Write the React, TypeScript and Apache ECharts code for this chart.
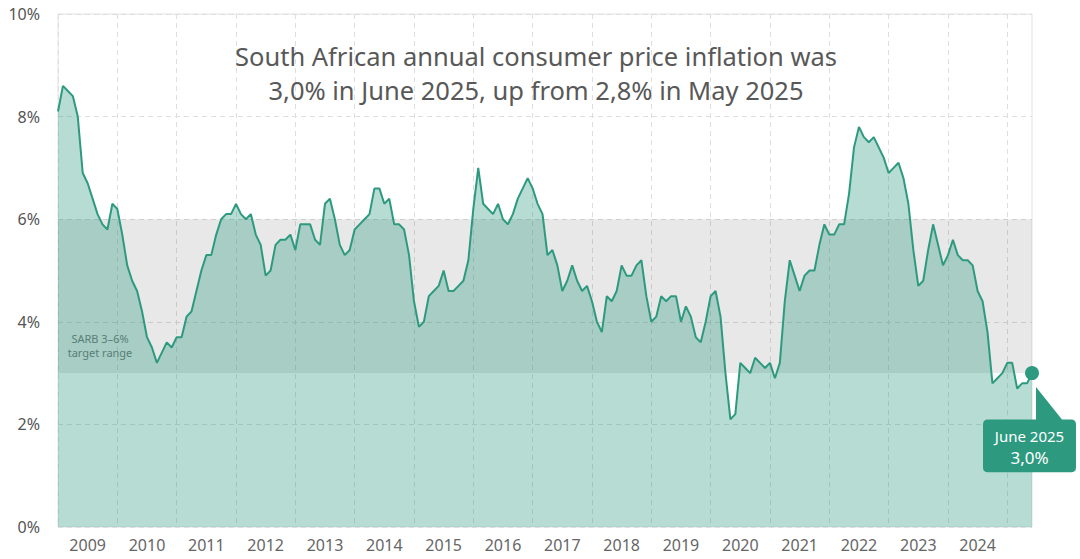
import React, { useEffect, useRef } from "react";
import * as echarts from "echarts";

// Headline CPI, year-on-year % change, monthly from January 2009
const startYear = 2009;
const cpi: number[] = [
  // 2009
  8.1, 8.6, 8.5, 8.4, 8.0, 6.9, 6.7, 6.4, 6.1, 5.9, 5.8, 6.3,
  // 2010
  6.2, 5.7, 5.1, 4.8, 4.6, 4.2, 3.7, 3.5, 3.2, 3.4, 3.6, 3.5,
  // 2011
  3.7, 3.7, 4.1, 4.2, 4.6, 5.0, 5.3, 5.3, 5.7, 6.0, 6.1, 6.1,
  // 2012
  6.3, 6.1, 6.0, 6.1, 5.7, 5.5, 4.9, 5.0, 5.5, 5.6, 5.6, 5.7,
  // 2013
  5.4, 5.9, 5.9, 5.9, 5.6, 5.5, 6.3, 6.4, 6.0, 5.5, 5.3, 5.4,
  // 2014
  5.8, 5.9, 6.0, 6.1, 6.6, 6.6, 6.3, 6.4, 5.9, 5.9, 5.8, 5.3,
  // 2015
  4.4, 3.9, 4.0, 4.5, 4.6, 4.7, 5.0, 4.6, 4.6, 4.7, 4.8, 5.2,
  // 2016
  6.2, 7.0, 6.3, 6.2, 6.1, 6.3, 6.0, 5.9, 6.1, 6.4, 6.6, 6.8,
  // 2017
  6.6, 6.3, 6.1, 5.3, 5.4, 5.1, 4.6, 4.8, 5.1, 4.8, 4.6, 4.7,
  // 2018
  4.4, 4.0, 3.8, 4.5, 4.4, 4.6, 5.1, 4.9, 4.9, 5.1, 5.2, 4.5,
  // 2019
  4.0, 4.1, 4.5, 4.4, 4.5, 4.5, 4.0, 4.3, 4.1, 3.7, 3.6, 4.0,
  // 2020
  4.5, 4.6, 4.1, 3.0, 2.1, 2.2, 3.2, 3.1, 3.0, 3.3, 3.2, 3.1,
  // 2021
  3.2, 2.9, 3.2, 4.4, 5.2, 4.9, 4.6, 4.9, 5.0, 5.0, 5.5, 5.9,
  // 2022
  5.7, 5.7, 5.9, 5.9, 6.5, 7.4, 7.8, 7.6, 7.5, 7.6, 7.4, 7.2,
  // 2023
  6.9, 7.0, 7.1, 6.8, 6.3, 5.4, 4.7, 4.8, 5.4, 5.9, 5.5, 5.1,
  // 2024
  5.3, 5.6, 5.3, 5.2, 5.2, 5.1, 4.6, 4.4, 3.8, 2.8, 2.9, 3.0,
  // 2025
  3.2, 3.2, 2.7, 2.8, 2.8, 3.0,
];

const monthNames = [
  "January", "February", "March", "April", "May", "June",
  "July", "August", "September", "October", "November", "December",
];

// Category labels "YYYY-MM" for every observation
const months: string[] = cpi.map((_, i) => {
  const y = startYear + Math.floor(i / 12);
  const m = (i % 12) + 1;
  return `${y}-${m < 10 ? "0" + m : m}`;
});

const targetRange = [3, 6];
const yTicks = [0, 2, 4, 6, 8, 10];

const titleLines = [
  "South African annual consumer price inflation was",
  "3,0% in June 2025, up from 2,8% in May 2025",
];

const TEAL = "#2d9a80";
const FONT = "'Noto Sans', 'Open Sans', sans-serif";

const fmtPct = (v: number) => v.toFixed(1).replace(".", ",") + "%";

export default function App() {
  const ref = useRef<HTMLDivElement>(null);

  useEffect(() => {
    document.body.style.margin = "0";
    if (!ref.current) return;
    const chart = echarts.init(ref.current, undefined, { renderer: "svg" });

    const lastIdx = cpi.length - 1;
    const lastVal = cpi[lastIdx];
    const lastMonth = months[lastIdx];
    const lastLabel =
      monthNames[parseInt(lastMonth.slice(5), 10) - 1] + " " + lastMonth.slice(0, 4);

    // Callout box with a pointer, relative to the highlighted point
    const calloutPath =
      "path://M4,12 L30,46 L39,46 Q44,46 44,51 L44,96 Q44,101 39,101 L-44,101 Q-49,101 -49,96 L-49,51 Q-49,46 -44,46 L4,46 Z";

    chart.setOption({
      animation: false,
      backgroundColor: "#ffffff",
      textStyle: { fontFamily: FONT },
      title: {
        text: titleLines.join("\n"),
        left: 531,
        top: 34,
        textAlign: "center",
        textStyle: {
          fontFamily: FONT,
          fontSize: 25.5,
          lineHeight: 34,
          fontWeight: "normal",
          color: "#585858",
        },
      },
      grid: {
        left: 58,
        right: 48,
        top: 14,
        bottom: 32,
        show: true,
        borderColor: "#e2e2e2",
        borderWidth: 1,
        backgroundColor: "transparent",
      },
      xAxis: {
        type: "category",
        data: months,
        boundaryGap: false,
        axisLine: { show: false },
        axisTick: { show: false },
        axisLabel: {
          interval: (index: number) => index % 12 === 6,
          formatter: (v: string) => v.slice(0, 4),
          color: "#666666",
          fontSize: 16,
          fontFamily: FONT,
          margin: 10,
        },
        splitLine: {
          show: true,
          interval: (index: number) => index % 12 === 0,
          lineStyle: { color: "#dedede", type: [5, 4], width: 1 },
        },
      },
      yAxis: {
        type: "value",
        min: yTicks[0],
        max: yTicks[yTicks.length - 1],
        interval: 2,
        axisLine: { show: false },
        axisTick: { show: false },
        axisLabel: {
          formatter: "{value}%",
          color: "#555555",
          fontSize: 16,
          fontFamily: FONT,
          margin: 18,
        },
        splitLine: {
          show: true,
          lineStyle: { color: "#dedede", type: [5, 4], width: 1 },
        },
      },
      series: [
        {
          type: "line",
          data: cpi,
          showSymbol: false,
          symbol: "none",
          lineStyle: { color: TEAL, width: 2 },
          areaStyle: { color: "rgba(45,154,128,0.35)", opacity: 1, origin: "start" },
          markArea: {
            silent: true,
            itemStyle: { color: "rgba(0,0,0,0.09)" },
            label: {
              show: true,
              position: [42, 112],
              align: "center",
              verticalAlign: "top",
              color: "#6f6f6f",
              fontSize: 11,
              lineHeight: 14,
              fontFamily: FONT,
              formatter: `SARB ${targetRange[0]}–${targetRange[1]}%\ntarget range`,
            },
            data: [[{ yAxis: targetRange[0] }, { yAxis: targetRange[1] }]],
          },
          markPoint: {
            silent: true,
            data: [
              {
                coord: [lastIdx, lastVal],
                symbol: calloutPath,
                symbolKeepAspect: true,
                symbolSize: [93, 89],
                symbolOffset: [-2.5, 56.5],
                itemStyle: { color: TEAL },
                label: {
                  show: true,
                  offset: [0, 17],
                  formatter: `{a|${lastLabel}}\n{b|${fmtPct(lastVal)}}`,
                  rich: {
                    a: { color: "#ffffff", fontSize: 15, lineHeight: 22, fontFamily: FONT },
                    b: { color: "#ffffff", fontSize: 17, lineHeight: 22, fontFamily: FONT },
                  },
                },
              },
              {
                coord: [lastIdx, lastVal],
                symbol: "circle",
                symbolSize: 14,
                itemStyle: { color: TEAL },
                label: { show: false },
              },
            ],
          },
        },
      ],
    });

    return () => chart.dispose();
  }, []);

  return <div ref={ref} style={{ width: 1080, height: 559 }} />;
}
